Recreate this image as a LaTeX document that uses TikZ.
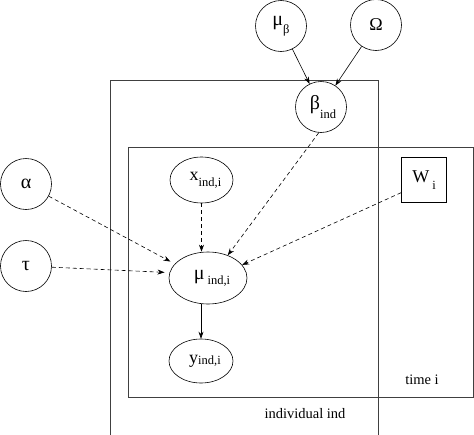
\documentclass[tikz,border=0pt]{standalone}
\usepackage{fontspec}
\setmainfont{Liberation Serif}
\usetikzlibrary{arrows.meta,shapes.geometric}
\newcommand{\lowsub}[2]{\raisebox{#1}{\fontsize{12.5}{13}\selectfont #2}}
\newcommand{\gk}[1]{{\fontsize{20}{22}\selectfont #1}}
\begin{document}
\begin{tikzpicture}[x=1pt,y=-1pt,
  every node/.style={font=\fontsize{18}{20}\selectfont},
  var/.style={circle,draw,line width=0.6pt,minimum size=51pt,inner sep=0pt},
  evar/.style={ellipse,draw,line width=0.6pt,inner sep=0pt},
  wbox/.style={draw,line width=0.6pt,minimum size=45pt,inner sep=0pt},
  plate/.style={draw,line width=0.6pt,black!75},
  arr/.style={-{Stealth[length=7pt,width=5pt]},line width=0.6pt},
  darr/.style={arr,dash pattern=on 4pt off 3pt},
  lbl/.style={font=\fontsize{14.5}{16}\selectfont}
]
\useasboundingbox (0,0) rectangle (474,434);
\begin{scope}
\clip (0,0) rectangle (474,434);
\draw[plate] (110,80) rectangle (378,445);
\draw[plate] (128,147) rectangle (473.3,397);
\end{scope}

\node[var] (mub) at (281,26) {\gk{μ}\lowsub{-1.0ex}{β}};
\node[var] (om) at (376,25) {Ω};
\node[var] (beta) at (321,107) {\hspace{4pt}\gk{β}\lowsub{-1.2ex}{ind}};
\node[var] (al) at (26,184) {\gk{α}};
\node[var] (tau) at (26,266) {\gk{τ}};
\node[evar,minimum width=63pt,minimum height=46pt] (x) at (201.5,180) {\hspace{8pt}x\lowsub{-0.7ex}{ind,i}};
\node[evar,minimum width=78pt,minimum height=52pt] (mu) at (208,278) {\hspace{8pt}\gk{μ}\,\lowsub{-0.6ex}{ind,i}};
\node[evar,minimum width=64pt,minimum height=44pt] (y) at (201,361) {\hspace{8pt}y\lowsub{-0.1ex}{ind,i}};
\node[wbox] (W) at (424,180) {W\,\lowsub{-0.9ex}{i}};

\node[lbl] (time) at (422,380) {time i};
\node[lbl] (indiv) at (305,414) {individual ind};

\draw[arr] (mub) -- (beta);
\draw[arr] (om) -- (beta);
\draw[darr] (beta.265) -- (mu.49);
\draw[darr,shorten >=5pt] (al) -- (mu.157);
\draw[darr,shorten >=5pt] (tau) -- (mu.172);
\draw[darr] (x) -- (x |- mu.north);
\draw[darr] (W.209) -- (mu.21);
\draw[arr] (y |- mu.south) -- (y);
\end{tikzpicture}
\end{document}
